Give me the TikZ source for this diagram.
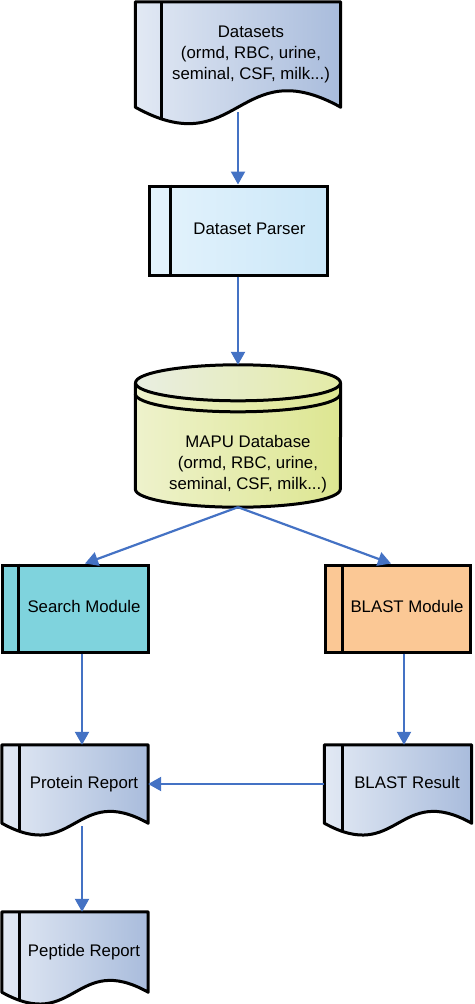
\documentclass[tikz,border=0pt]{standalone}
\usepackage{fontspec}
\setmainfont{Liberation Sans}
\usepackage{xcolor}
\usetikzlibrary{arrows.meta,calc,backgrounds}

\definecolor{flowblue}{HTML}{4472C4}
\definecolor{docleft}{HTML}{E2E9F4}
\definecolor{docright}{HTML}{A9BCDC}
\definecolor{parserleft}{HTML}{E4F3FC}
\definecolor{parserright}{HTML}{CBE7F8}
\definecolor{dbleft}{HTML}{EEF2CC}
\definecolor{dbright}{HTML}{DDE691}
\definecolor{dbtopleft}{HTML}{E9EEE2}
\definecolor{dbtopright}{HTML}{E4EBA6}
\definecolor{searchcol}{HTML}{7FD3DD}
\definecolor{blastcol}{HTML}{FBC895}

% text of a shape, moved right of the stripe
\newcommand{\flowtext}[2]{\hspace*{#1}\begin{tabular}{@{}c@{}}#2\end{tabular}}
% same, lowered into the body of the cylinder
\newcommand{\lowtext}[3]{\hspace*{#1}\raisebox{#2}[0pt][0pt]{\begin{tabular}{@{}c@{}}#3\end{tabular}}}

% document shape: node, stripe, wave
\def\docpath#1#2{(#1.north west) -- (#1.north east) -- (#1.south east) .. controls ($(#1.south)+(0,#2)$) and ($(#1.south)+(0,-#2)$) .. (#1.south west) -- cycle}
\newcommand{\drawdoc}[3]{%
  \fill[docfill] \docpath{#1}{#3};
  \begin{scope}
    \clip \docpath{#1}{#3};
    \draw[shapeline] ($(#1.north west)+(#2,0)$) -- ($(#1.south west)+(#2,-40)$);
  \end{scope}
  \draw[shapeline] \docpath{#1}{#3};
}
% database: node, x radius
\newcommand{\drawdb}[2]{%
  \fill[dbfill] ($(#1.north west)+(0,-18)$) -- ($(#1.south west)+(0,18)$) arc[start angle=180,end angle=360,x radius=#2,y radius=18] -- ($(#1.north east)+(0,-18)$) -- cycle;
  \draw[shapeline] ($(#1.north west)+(0,-18)$) -- ($(#1.south west)+(0,18)$) arc[start angle=180,end angle=360,x radius=#2,y radius=18] -- ($(#1.north east)+(0,-18)$);
  \draw[shapeline,dbtopfill] ($(#1.north)+(0,-18)$) ellipse[x radius=#2,y radius=18];
  \draw[shapeline] ($(#1.north west)+(0,-29)$) arc[start angle=180,end angle=360,x radius=#2,y radius=18];
}

\begin{document}
\begin{tikzpicture}[x=1pt,y=1pt,
  flow/.style={inner sep=0pt,font=\fontsize{16.8}{21}\selectfont,text=black},
  boxnode/.style={flow,draw=black,line width=3pt},
  shapeline/.style={draw=black,line width=3pt,line join=round},
  docfill/.style={left color=docleft,right color=docright},
  dbfill/.style={left color=dbleft,right color=dbright},
  dbtopfill/.style={left color=dbtopleft,right color=dbtopright},
  conn/.style={draw=flowblue,line width=2.2pt,-{Triangle[width=14pt,length=13pt]}}]
\useasboundingbox (0,0) rectangle (474,-1004);

\node[flow,minimum width=205pt,minimum height=105pt] (data) at (238,-54.5)
  {\flowtext{26pt}{Datasets\\(ormd, RBC, urine,\\seminal, CSF, milk...)}};
\node[boxnode,left color=parserleft,right color=parserright,minimum width=178pt,minimum height=89pt] (parser) at (238,-230.5)
  {\flowtext{23pt}{Dataset Parser}};
\node[flow,minimum width=205pt,minimum height=142pt] (db) at (238,-436)
  {\lowtext{20pt}{-33pt}{MAPU Database\\(ormd, RBC, urine,\\seminal, CSF, milk...)}};
\node[boxnode,fill=searchcol,minimum width=146pt,minimum height=87pt] (search) at (75,-608.5)
  {\flowtext{18pt}{Search Module}};
\node[boxnode,fill=blastcol,minimum width=145pt,minimum height=87pt] (blast) at (398,-608.5)
  {\flowtext{18pt}{BLAST Module}};
\node[flow,minimum width=146pt,minimum height=78pt] (protein) at (75,-784)
  {\flowtext{18pt}{Protein Report}};
\node[flow,minimum width=147pt,minimum height=78pt] (blastres) at (398,-784)
  {\flowtext{18pt}{BLAST Result}};
\node[flow,minimum width=146pt,minimum height=80pt] (peptide) at (75,-952)
  {\flowtext{18pt}{Peptide Report}};

\begin{scope}[on background layer]
  \drawdoc{data}{26}{57}
  \drawdb{db}{102.5}
  \drawdoc{protein}{18}{41}
  \drawdoc{blastres}{18}{41}
  \drawdoc{peptide}{18}{41}
\end{scope}

\draw[shapeline] ($(parser.north west)+(23,0)$) -- ($(parser.south west)+(23,0)$);
\draw[shapeline] ($(search.north west)+(18,0)$) -- ($(search.south west)+(18,0)$);
\draw[shapeline] ($(blast.north west)+(18,0)$) -- ($(blast.south west)+(18,0)$);

\draw[conn,shorten <=5pt] (data.south) -- (parser.north);
\draw[conn] (parser.south) -- (db.north);
\draw[conn] (db.south) -- ([xshift=10pt]search.north);
\draw[conn] (db.south) -- ([xshift=-7pt]blast.north);
\draw[conn] ([xshift=7pt]search.south) -- ([xshift=7pt]protein.north);
\draw[conn] ([xshift=6pt]blast.south) -- ([xshift=6pt]blastres.north);
\draw[conn] (blastres.west) -- (protein.east);
\draw[conn,shorten <=3pt] ([xshift=7pt]protein.south) -- ([xshift=7pt]peptide.north);
\end{tikzpicture}
\end{document}
